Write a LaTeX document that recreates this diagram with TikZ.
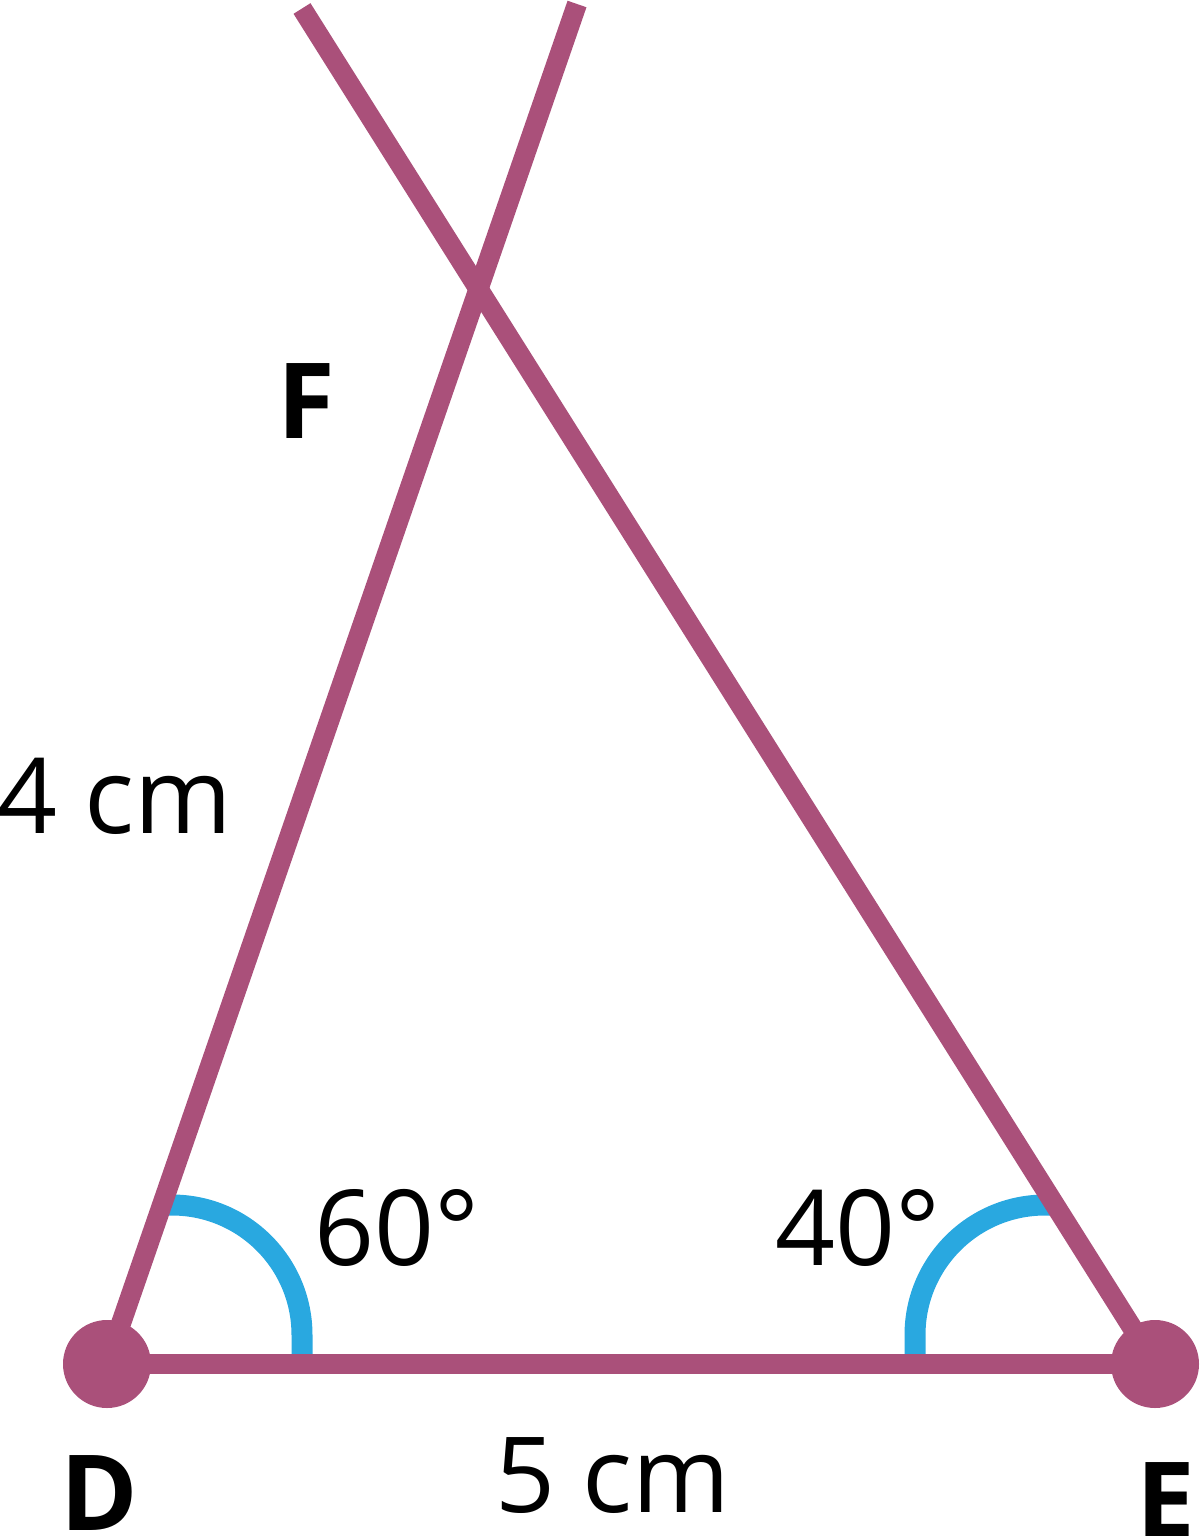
\documentclass[tikz,border=0pt]{standalone}
\usepackage{fontspec}
\setmainfont{Open Sans}
\definecolor{plum}{RGB}{170,80,122}
\definecolor{sky}{RGB}{41,168,224}
\tikzset{% 
    vtx/.style={inner sep=0pt,minimum size=44pt,circle,fill=plum},
    seg/.style={line width=10pt,draw=plum},
    ang/.style={line width=10.5pt,draw=sky},
    lbl/.style={inner sep=0pt,anchor=base,font=\fontsize{52.5}{60}\selectfont}
}
\begin{document}
\begin{tikzpicture}[x=0.5pt,y=-0.5pt]
        \useasboundingbox (0,0) rectangle (1200,1536);

        % angle marks
        \draw[ang] (162,1205) -- (172,1205) arc (-90:0:130) -- (302,1364);
        \draw[ang] (1055,1205) -- (1045,1205) arc (-90:-180:130) -- (915,1364);

        \node[vtx] (D) at (107,1364){};
        \node[vtx] (E) at (1155,1364){};
        \coordinate (d1) at (577,4);
        \coordinate (e1) at (302,8.5);

        \draw[seg] (D.center) -- (E.center);
        \draw[seg] (D.center) -- (d1);
        \draw[seg] (E.center) -- (e1);

        \node[lbl] (lD) at (99,1530){\bfseries D};
        \node[lbl] (lE) at (1166,1537){\bfseries E};
        \node[lbl] (lF) at (306,438){\bfseries F};
        \node[lbl,anchor=base west] (lDF) at (-3,833){4 cm};
        \node[lbl] (lDE) at (613,1512){5 cm};
        \node[lbl] (aD) at (397,1265){60°};
        \node[lbl] (aE) at (858,1265){40°};
    \end{tikzpicture}
\end{document}
